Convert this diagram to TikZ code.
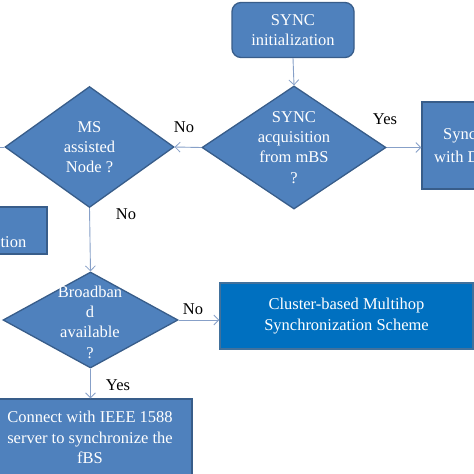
\documentclass[tikz,border=0pt]{standalone}
\usepackage{fontspec}
\setmainfont{Liberation Serif}
\usetikzlibrary{shapes.geometric,arrows.meta}
\definecolor{boxfill}{RGB}{79,129,189}
\definecolor{boxline}{RGB}{56,93,138}
\definecolor{clfill}{RGB}{0,112,192}
\definecolor{clline}{RGB}{65,113,156}
\definecolor{arrcol}{RGB}{135,160,200}
\tikzset{
  base/.style={fill=boxfill,draw=boxline,line width=1.3pt,inner sep=0pt},
  boxnode/.style={base,rectangle},
  rboxnode/.style={base,rectangle,rounded corners=9pt},
  dianode/.style={base,diamond},
  txt/.style={text=white,align=center,inner sep=0pt,font=\fontsize{16.5}{20.3}\selectfont},
  lbl/.style={text=black,inner sep=0pt,font=\fontsize{16.5}{20.3}\selectfont},
  conn/.style={draw=arrcol,line width=0.9pt,-{Straight Barb[length=5pt,width=10pt,line width=0.8pt]}},
  plain/.style={draw=arrcol,line width=0.9pt}
}
\begin{document}
\begin{tikzpicture}[x=1pt,y=-1pt]
\useasboundingbox (0,0) rectangle (474,474);
\fill[white] (0,0) rectangle (474,474);
% shapes
\node[rboxnode,minimum width=122pt,minimum height=55pt] (init) at (293,30) {};
\node[txt] (initT) at (init) {SYNC\\initialization};
\node[dianode,minimum width=184pt,minimum height=123pt] (acq) at (294,147.5) {};
\node[txt] (acqT) at (acq) {SYNC\\acquisition\\from mBS\\?};
\node[dianode,minimum width=169pt,minimum height=121pt] (ms) at (89.5,147) {};
\node[txt] (msT) at (ms) {MS\\assisted\\Node ?};
\node[boxnode,minimum width=140pt,minimum height=87pt] (sync) at (492,145.5) {};
\node[txt,anchor=west] (syncA) at (443,136) {Sync};
\node[txt,anchor=west] (syncB) at (434,157) {with D};
\node[boxnode,minimum width=80pt,minimum height=47pt] (left) at (7,230.5) {};
\node[txt,anchor=east] (leftT) at (26.5,242) {tion};
\node[dianode,minimum width=175pt,minimum height=96pt] (bb) at (90.5,320) {};
\node[txt] (bbT) at (90,322) {Broadban\\d\\available\\?};
\node[boxnode,fill=clfill,draw=clline,minimum width=253pt,minimum height=66pt] (cl) at (346.5,316) {};
\node[txt] (clT) at (cl) {Cluster-based Multihop\\Synchronization Scheme};
\node[boxnode,minimum width=204pt,minimum height=82pt] (con) at (90,440) {};
\node[txt] (conT) at (90,437.5) {Connect with IEEE 1588\\server to synchronize the\\fBS};
% connectors
\coordinate (offL) at (-20,147);
\draw[conn] (init.south) -- (acq.north);
\draw[conn] (acq.west) -- (ms.east);
\draw[conn] (acq.east) -- (sync.west |- acq.east);
\draw[plain] (ms.west) -- (offL);
\draw[conn] (ms.south) -- (bb.north);
\draw[conn] (bb.east) -- (cl.west |- bb.east);
\draw[conn] (bb.south) -- (bb.south |- con.north);
% labels
\node[lbl] (l1) at (184,127) {No};
\node[lbl] (l2) at (385,119) {Yes};
\node[lbl] (l3) at (126,214) {No};
\node[lbl] (l4) at (193,309) {No};
\node[lbl] (l5) at (118,385) {Yes};
\end{tikzpicture}
\end{document}
